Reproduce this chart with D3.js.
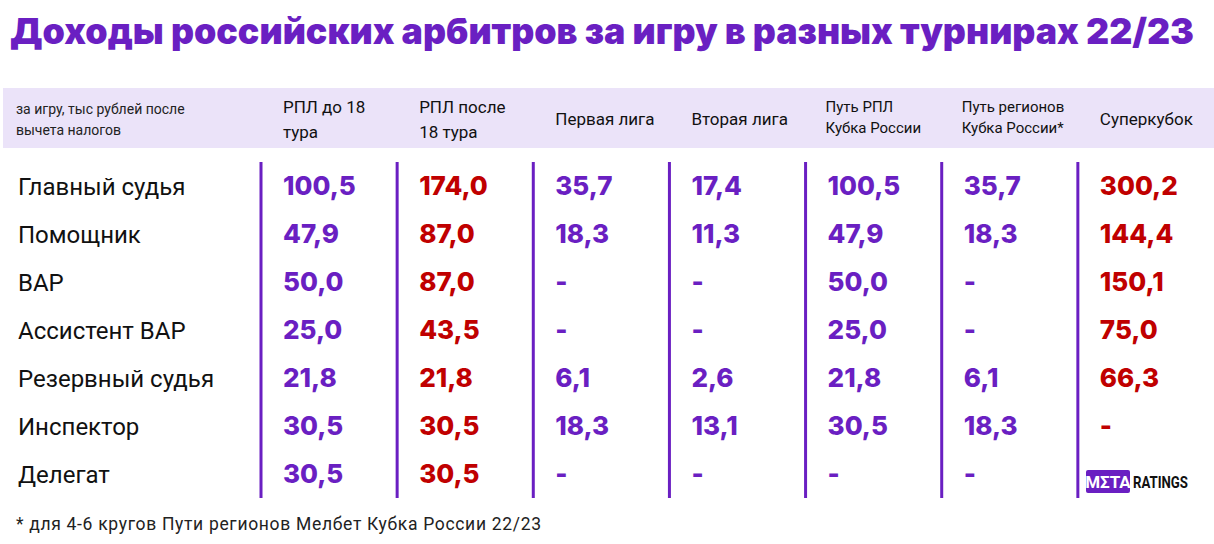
<!DOCTYPE html>
<html><head><meta charset="utf-8">
<script src="https://cdn.jsdelivr.net/npm/d3@7"></script>
<style>body{margin:0;background:#fff}</style>
</head><body>
<svg id="chart" width="1214" height="544"></svg>
<script>
let columns = ["РПЛ до 18|тура","РПЛ после|18 тура","Первая лига","Вторая лига","Путь РПЛ|Кубка России","Путь регионов|Кубка России*","Суперкубок"]
let roles = ["Главный судья","Помощник","ВАР","Ассистент ВАР","Резервный судья","Инспектор","Делегат"]
let rplBefore = ["100,5","47,9","50,0","25,0","21,8","30,5","30,5"]
let rplAfter = ["174,0","87,0","87,0","43,5","21,8","30,5","30,5"]
let firstLeague = ["35,7","18,3","-","-","6,1","18,3","-"]
let secondLeague = ["17,4","11,3","-","-","2,6","13,1","-"]
let cupRpl = ["100,5","47,9","50,0","25,0","21,8","30,5","-"]
let cupRegions = ["35,7","18,3","-","-","6,1","18,3","-"]
let superCup = ["300,2","144,4","150,1","75,0","66,3","-",""]
let series = [rplBefore,rplAfter,firstLeague,secondLeague,cupRpl,cupRegions,superCup]
let redCols = [1,6]

let purple = "#6a1fc2", red = "#c00000"
let svg = d3.select("#chart")

svg.append("text").attr("x",10).attr("y",44)
    .attr("font-family","Inter").attr("font-weight",900).attr("font-size",36)
    .attr("fill",purple).attr("textLength",1184).attr("lengthAdjust","spacingAndGlyphs")
    .text("Доходы российских арбитров за игру в разных турнирах 22/23")

svg.append("rect").attr("x",3).attr("y",88).attr("width",1211).attr("height",60).attr("fill","#ebe3f9")

let x = d3.scaleBand().domain(d3.range(columns.length)).range([261,1214]).paddingInner(0)
let y = d3.scaleBand().domain(roles).range([162,498])

svg.append("text").attr("font-family","Roboto").attr("font-size",14).attr("fill","#222")
    .selectAll("tspan").data(["за игру, тыс рублей после","вычета налогов"]).join("tspan")
    .attr("x",16).attr("y",(d,i)=>114+i*21).text(d=>d)

let head = svg.selectAll("g.head").data(columns).join("g")
head.append("text").attr("font-family","Roboto").attr("fill","#111")
    .each(function(d,i){
        let lines = d.split("|")
        let small = i>=4 && lines.length>1
        d3.select(this).attr("font-size",small?15:17).selectAll("tspan").data(lines).join("tspan")
            .attr("x",x(i)+ (small?20:22)).attr("y",(l,j)=> lines.length==1 ? 125 : (small?112:113)+j*(small?21:25)).text(l=>l)
    })

d3.range(columns.length).forEach(i=>{
    svg.append("line").attr("x1",x(i)).attr("x2",x(i)).attr("y1",y.range()[0]).attr("y2",y.range()[1])
        .attr("stroke",purple).attr("stroke-width",3)
})

svg.selectAll("text.role").data(roles).join("text").attr("class","role")
    .attr("x",18).attr("y",d=>y(d)+y.bandwidth()/2+9)
    .attr("font-family","Roboto").attr("font-size",24).attr("fill","#111").text(d=>d)

series.forEach((vals,i)=>{
    svg.selectAll("text.c"+i).data(vals).join("text").attr("class","c"+i)
        .attr("x",x(i)+22).attr("y",(d,j)=>y(roles[j])+y.bandwidth()/2+9)
        .attr("font-family","Inter").attr("font-weight",800).attr("font-size",26)
        .attr("fill",redCols.includes(i)?red:purple).text(d=>d)
})

let logo = svg.append("g").attr("transform","translate(1086,470)")
logo.append("rect").attr("width",44).attr("height",23).attr("rx",2).attr("fill",purple)
logo.append("text").attr("x",22).attr("y",18).attr("text-anchor","middle").attr("fill","#fff")
    .attr("font-family","Roboto").attr("font-weight",700).attr("font-size",17).text("ΜΣΤΑ")
logo.append("text").attr("x",47).attr("y",18).attr("fill","#111").attr("font-family","Roboto")
    .attr("font-weight",700).attr("font-size",16).attr("textLength",55).attr("lengthAdjust","spacingAndGlyphs").text("RATINGS")

svg.append("text").attr("x",16).attr("y",530).attr("font-family","Roboto").attr("font-size",17.5).attr("fill","#222")
    .attr("textLength",525).text("* для 4-6 кругов Пути регионов Мелбет Кубка России 22/23")
</script>
</body></html>
